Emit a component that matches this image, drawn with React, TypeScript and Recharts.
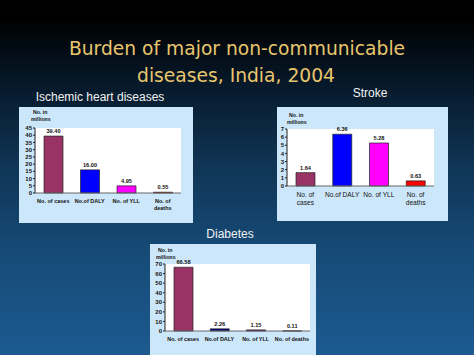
import React from 'react';
import { BarChart, Bar, XAxis, YAxis, CartesianGrid, Cell, LabelList } from 'recharts';

const titleLines = ['Burden of major non-communicable', 'diseases, India, 2004'];
const panelTitles = ['Ischemic heart diseases', 'Stroke', 'Diabetes'];
const yAxisLabel = ['No. in', 'millions'];

const ihdCategories = ['No. of cases', 'No.of DALY', 'No. of YLL', 'No. of\ndeaths'];
const ihdValues = [39.4, 16.0, 4.95, 0.55];
const ihdTicks = [0, 5, 10, 15, 20, 25, 30, 35, 40, 45];
const ihdColors = ['#993366', '#0000FF', '#FF00FF', '#FF0000'];

const strokeCategories = ['No. of\ncases', 'No.of DALY', 'No. of YLL', 'No. of\ndeaths'];
const strokeValues = [1.64, 6.36, 5.28, 0.63];
const strokeTicks = [0, 1, 2, 3, 4, 5, 6, 7];
const strokeColors = ['#993366', '#0000FF', '#FF00FF', '#FF0000'];

const diabetesCategories = ['No. of cases', 'No.of DALY', 'No. of YLL', 'No. of deaths'];
const diabetesValues = [66.58, 2.26, 1.15, 0.11];
const diabetesTicks = [0, 10, 20, 30, 40, 50, 60, 70];
const diabetesColors = ['#993366', '#000080', '#800080', '#FF0000'];

const FONT = '"Liberation Sans", Arial, sans-serif';

const XTick = (props: any) => {
  const { x, y, payload, fs, bold, first, gap } = props;
  const lines = String(payload.value).split('\n');
  return (
    <text textAnchor="middle" fontSize={fs} fontWeight={bold ? 'bold' : 'normal'} fill="#111" fontFamily={FONT}>
      {lines.map((l: string, i: number) => (
        <tspan key={i} x={x} y={y + first + i * gap}>{l}</tspan>
      ))}
    </text>
  );
};

type PanelProps = {
  left: number; top: number; width: number; height: number;
  margin: { top: number; right: number; left: number; bottom: number };
  yWidth: number; xHeight: number;
  categories: string[]; values: number[]; ticks: number[]; colors: string[];
  xfs: number; xbold: boolean; xfirst: number; xgap: number;
  labelLeft: number; labelTop: number;
};

const Panel = (p: PanelProps) => {
  const data = p.categories.map((c, i) => ({ name: c, value: p.values[i] }));
  const max = p.ticks[p.ticks.length - 1];
  return (
    <div style={{ position: 'absolute', left: p.left, top: p.top, width: p.width, height: p.height, background: '#CDE7FA', fontFamily: FONT }}>
      <BarChart width={p.width} height={p.height} data={data} margin={p.margin} barSize={19}>
        <CartesianGrid fill="#FFFFFF" stroke="none" horizontal={false} vertical={false} />
        <XAxis dataKey="name" height={p.xHeight} interval={0} tickSize={0} tickMargin={0}
          axisLine={{ stroke: '#666', strokeWidth: 1 }} tickLine={false}
          tick={<XTick fs={p.xfs} bold={p.xbold} first={p.xfirst} gap={p.xgap} />} />
        <YAxis width={p.yWidth} domain={[0, max]} ticks={p.ticks} interval={0} tickSize={2} tickMargin={1}
          axisLine={{ stroke: '#222', strokeWidth: 1 }} tickLine={{ stroke: '#222' }}
          tick={{ fontSize: 6, fontWeight: 'bold', fill: '#111', fontFamily: FONT }} />
        <Bar dataKey="value" isAnimationActive={false} stroke="#222" strokeWidth={0.7}>
          {data.map((d, i) => <Cell key={i} fill={p.colors[i]} />)}
          <LabelList dataKey="value" position="top" offset={3}
            formatter={(v: any) => Number(v).toFixed(2)}
            style={{ fontSize: 5.6, fontWeight: 'bold', fill: '#111', fontFamily: FONT }} />
        </Bar>
      </BarChart>
      <div style={{ position: 'absolute', left: p.labelLeft, top: p.labelTop, fontSize: 5.2, fontWeight: 'bold', color: '#111', lineHeight: '6.5px', textAlign: 'left' }}>
        <div style={{ paddingLeft: 2 }}>{yAxisLabel[0]}</div>
        <div>{yAxisLabel[1]}</div>
      </div>
    </div>
  );
};

export default function App() {
  return (
    <div style={{ position: 'absolute', left: 0, top: 0, width: 474, height: 355, overflow: 'hidden',
      background: 'linear-gradient(180deg, #000000 0%, #000000 5%, #071a2c 25%, #0f3352 45%, #164a76 70%, #1c5a90 100%)' }}>
      <svg width={474} height={355} style={{ position: 'absolute', left: 0, top: 0 }}>
        <text x={237} y={55} textAnchor="middle" fontSize={18.7} fill="#E8C66E" fontFamily='"DejaVu Sans", sans-serif'>{titleLines[0]}</text>
        <text x={236} y={82} textAnchor="middle" fontSize={18.7} fill="#E8C66E" fontFamily='"DejaVu Sans", sans-serif'>{titleLines[1]}</text>
        <text x={100} y={101} textAnchor="middle" fontSize={12} fill="#F2F2F2" fontFamily={FONT}>{panelTitles[0]}</text>
        <text x={370} y={97} textAnchor="middle" fontSize={12} fill="#F2F2F2" fontFamily={FONT}>{panelTitles[1]}</text>
        <text x={230} y={238} textAnchor="middle" fontSize={12} fill="#F2F2F2" fontFamily={FONT}>{panelTitles[2]}</text>
      </svg>
      <Panel left={19} top={107} width={174} height={116}
        margin={{ top: 21, right: 12, left: 0, bottom: 0 }} yWidth={16} xHeight={30}
        categories={ihdCategories} values={ihdValues} ticks={ihdTicks} colors={ihdColors}
        xfs={5.5} xbold={true} xfirst={10} xgap={6.5} labelLeft={12} labelTop={2} />
      <Panel left={277} top={107} width={171} height={114}
        margin={{ top: 22, right: 14, left: 0, bottom: 0 }} yWidth={10} xHeight={35}
        categories={strokeCategories} values={strokeValues} ticks={strokeTicks} colors={strokeColors}
        xfs={6.6} xbold={false} xfirst={11.3} xgap={8} labelLeft={10} labelTop={5} />
      <Panel left={150} top={244} width={166} height={111}
        margin={{ top: 20, right: 6, left: 0, bottom: 0 }} yWidth={15} xHeight={24}
        categories={diabetesCategories} values={diabetesValues} ticks={diabetesTicks} colors={diabetesColors}
        xfs={5.4} xbold={true} xfirst={10} xgap={6.5} labelLeft={6} labelTop={3} />
    </div>
  );
}
